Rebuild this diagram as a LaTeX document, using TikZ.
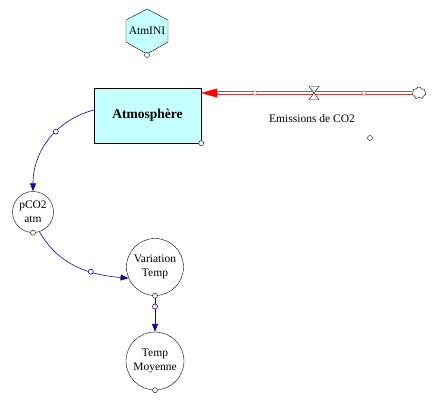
\documentclass[tikz,border=0pt]{standalone}
\usepackage{fontspec}
\setmainfont{Liberation Serif}
\usetikzlibrary{shapes.symbols,arrows.meta}
\definecolor{stockfill}{RGB}{198,255,255}
\definecolor{pipered}{RGB}{200,40,40}
\definecolor{linkblue}{RGB}{10,10,150}
\begin{document}
\begin{tikzpicture}
    [x=1pt,y=1pt,
    font=\fontsize{11.5}{14}\selectfont,
    stock/.style={draw,fill=stockfill,minimum width=107pt,minimum height=55pt,
      font=\fontsize{13.5}{16}\selectfont\bfseries},
    aux/.style={draw,circle,align=center,inner sep=0pt},
    port/.style={draw,circle,fill=white,inner sep=0pt,minimum size=5pt},
    pipe/.style={draw=pipered,line width=0.8pt,double=white,double distance=2.2pt},
    link/.style={draw=linkblue,line width=0.6pt,-{Triangle[length=8pt,width=6pt]}}]
    \useasboundingbox (0,0) rectangle (436,400);
    % stock and its initial value
    \node[stock] (atm) at (147.5,284.5) {Atmosph\`ere};
    \draw[fill=stockfill] (147,391) -- (168,380) -- (168,358) -- (147,346)
      -- (126,358) -- (126,380) -- cycle;
    \node (atmini) at (147,369) {AtmINI};
    \node[port] (atminiport) at (147,345) {};
    \node[port] (atmport) at (atm.south east) {};
    % inflow
    \node[cloud,cloud puffs=7,draw,fill=white,minimum width=14pt,minimum height=12pt,
      inner sep=0pt] (cloud) at (419,307) {};
    \coordinate (tip) at (atm.east |- cloud);
    \draw[pipe,shorten >=15pt] (cloud.west) -- (tip);
    \draw[red,-{Triangle[length=16pt,width=9pt]}] ([xshift=16pt]tip) -- (tip);
    \node[port,draw=pipered,minimum size=4.5pt] (pipeport1) at (255,307) {};
    \node[port,draw=pipered,minimum size=4.5pt] (pipeport2) at (364,307) {};
    \coordinate (valve) at (314,307);
    \draw[fill=white] ([shift={(-5,6.5)}]valve) -- ([shift={(5,6.5)}]valve)
      -- ([shift={(-5,-6.5)}]valve) -- ([shift={(5,-6.5)}]valve) -- cycle;
    \node (emis) at (312,281) {Emissions de CO2};
    \node[port] (emisport) at (370,262) {};
    % auxiliaries
    \node[aux,minimum size=41pt] (pco2) at (33,188) {pCO2\\atm};
    \node[aux,minimum size=57pt] (vartemp) at (155,133) {Variation\\Temp};
    \node[aux,minimum size=58pt] (tempmoy) at (155,39) {Temp\\Moyenne};
    % links
    \draw[link] (atm.west |- 0,290) to[out=195,in=90]
      node[port,pos=0.4,draw=linkblue] (l1) {} (pco2.north);
    \draw[link] (pco2.-72) to[out=-60,in=175]
      node[port,pos=0.65,draw=linkblue] (l2) {} (vartemp.203);
    \draw[link] (vartemp.south) -- node[port,pos=0.3,draw=linkblue] (l3) {} (tempmoy.north);
    \node[port] (pco2port) at (pco2.south) {};
    \node[port] (vartempport) at (vartemp.south) {};
    \node[port] (tempmoyport) at (tempmoy.south) {};
\end{tikzpicture}
\end{document}
